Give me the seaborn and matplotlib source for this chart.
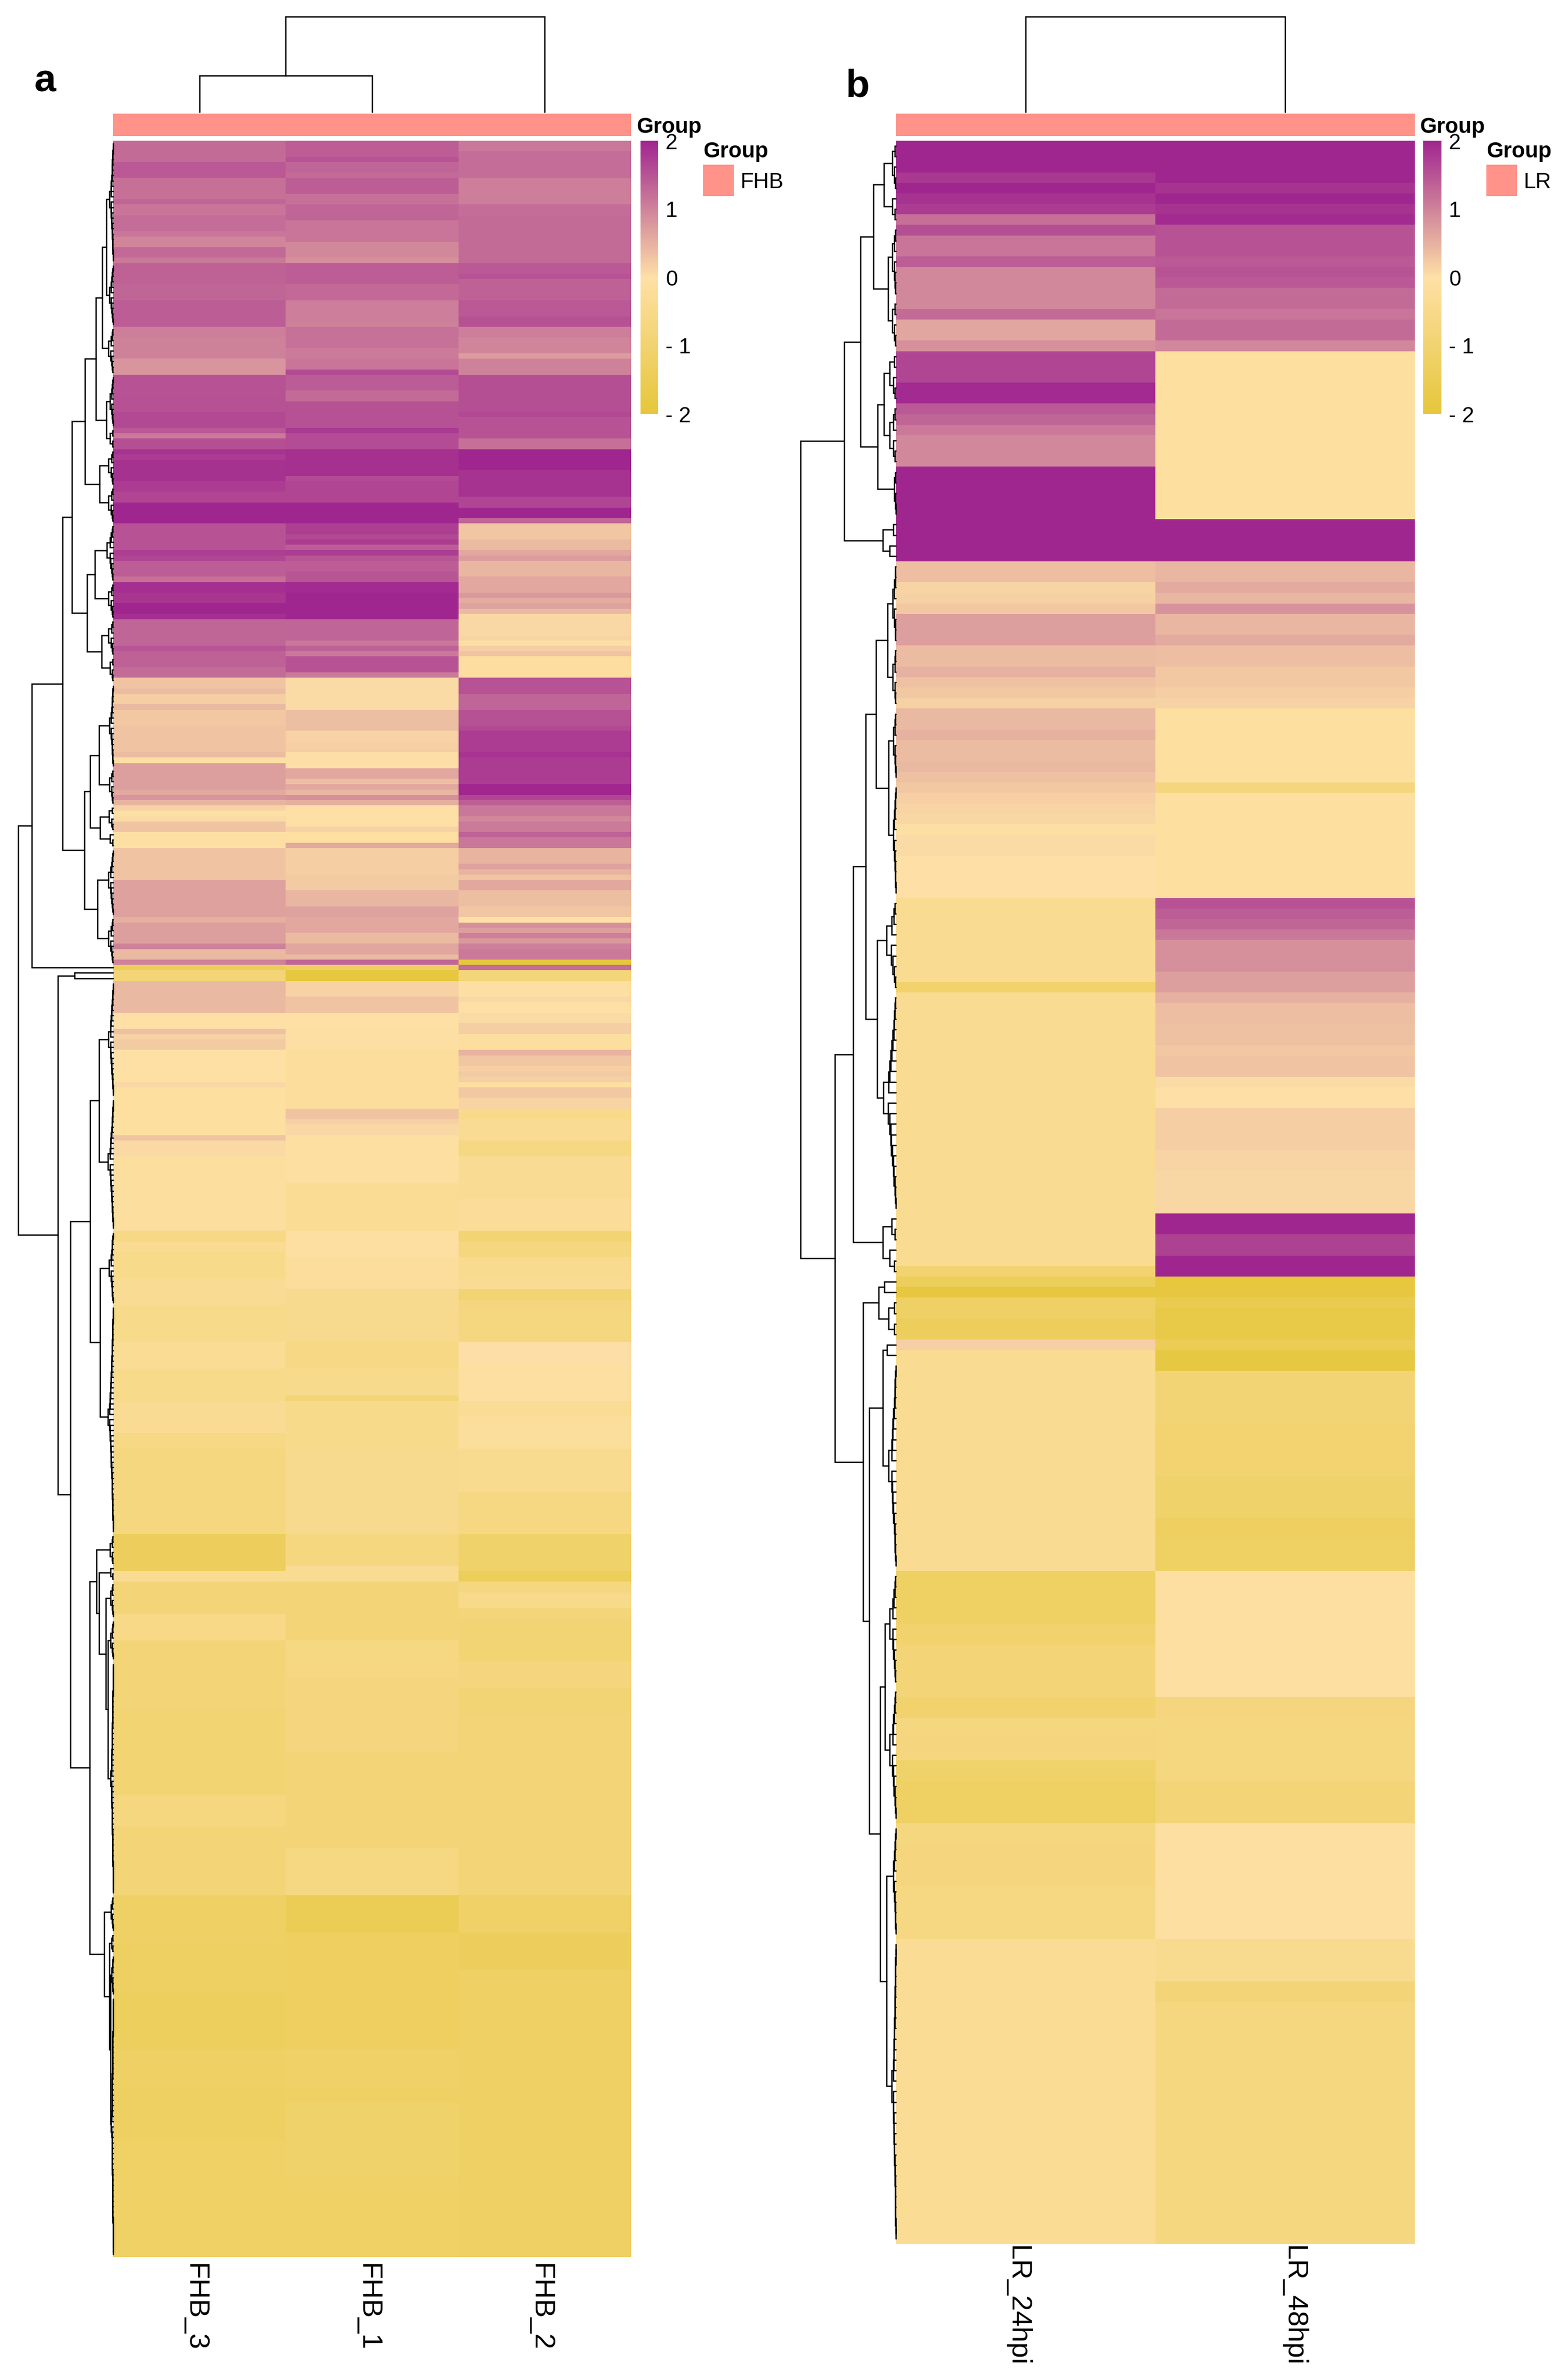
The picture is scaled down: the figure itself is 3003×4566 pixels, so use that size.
import numpy as np
import pandas as pd
import matplotlib
matplotlib.use("Agg")
import matplotlib.pyplot as plt
from matplotlib.colors import LinearSegmentedColormap, ListedColormap
import seaborn as sns

# ---------- data: each column is a list of run ends (row index) and run values ----------
a_columns = ["FHB_3", "FHB_1", "FHB_2"]
a_fhb3_ends = [4,7,11,12,14,17,18,20,22,23,27,30,35,37,41,44,48,51,54,55,56,58,59,60,64,66,68,72,77,78,79,82,83,85,87,89,90,95,96,99,101,
               103,104,106,107,110,115,116,117,122,123,124,125,126,127,128,130,133,139,146,147,151,152,154,155,156,158,164,167,168,169,171,
               177,178,187,188,191,205,207,209,214,219,226,231,237,243,246,262,269,271,277,282,295,311,317,330,339,348,359,366,376,398]
a_fhb3_vals = [1.25,1.45,1.2,1.3,1.15,1.22,1.13,.98,1.28,1.1,1.35,1.3,1.4,1.05,1.0,.8,1.5,1.52,1.62,1.45,1.1,1.55,1.85,1.75,1.87,1.75,1.65,2.0,1.5,1.72,1.65,1.4,1.2,1.9,1.82,2.0,1.9,1.3,1.48,1.35,1.25,
               .3,.38,.2,.42,.25,.3,.38,-.05,.7,.58,.8,.48,.15,0,.05,.3,-.05,.3,.68,.52,.7,1.0,.42,1.0,-1.4,-.85,.42,0,.33,.15,.22,
               -.03,.08,-.1,.3,.07,-.15,-.6,-.38,-.5,-.35,-.5,-.3,-.5,-.35,-.6,-.7,-1.35,-.38,-.85,-.55,-.85,-.95,-.7,-.88,-1.2,-1.28,-1.32,-1.2,-1.28,-1.18]
a_fhb1_ends = [3,4,6,7,10,12,15,19,22,23,27,30,34,35,39,41,43,44,47,49,54,55,58,63,64,68,72,74,75,76,77,78,79,81,83,85,90,94,95,96,97,100,101,
               107,111,113,115,118,120,121,122,123,124,125,127,129,130,132,133,138,141,144,146,149,151,153,154,155,156,158,161,164,167,170,
               171,182,184,185,187,196,205,210,216,226,231,236,237,246,262,268,271,282,289,303,321,330,337,359,366,369,383,398]
a_fhb1_vals = [1.4,1.5,1.32,1.25,1.4,1.2,1.3,1.15,.95,.85,1.4,1.28,1.05,1.0,1.18,1.08,1.15,1.6,1.42,1.25,1.52,1.78,1.58,1.88,1.58,1.65,2.0,1.72,1.62,1.75,1.4,1.75,1.48,1.4,1.48,1.95,2.0,1.32,1.12,1.35,1.12,1.5,1.1,
               .05,.35,.15,.18,.03,.6,.35,.6,.45,.85,.52,0,0,.15,-.08,.58,.2,.22,.45,.65,.6,.4,.62,.4,1.3,-1.3,-1.9,.15,.3,-.03,-.05,
               -.05,-.2,.3,.18,.08,-.07,-.3,-.08,-.2,-.45,-.6,-.48,-.85,-.5,-.45,-.7,-.38,-.85,-.65,-.75,-.85,-.65,-1.5,-1.3,-1.15,-1.22,-1.1,-1.18]
a_fhb2_ends = [2,7,12,14,23,25,26,30,33,35,37,40,41,44,51,52,56,58,62,67,69,71,72,75,77,78,79,82,85,86,87,88,89,93,94,95,96,97,101,
               104,107,110,111,115,116,121,123,124,125,127,128,130,131,133,136,137,138,139,141,144,146,147,148,149,150,151,152,154,155,156,158,161,162,164,166,168,171,
               172,174,175,176,177,178,180,182,184,188,191,199,205,207,210,214,216,218,220,226,230,237,240,246,254,262,269,271,273,276,278,284,286,291,296,330,337,344,398]
a_fhb2_vals = [1.12,1.22,1.05,1.22,1.25,1.45,1.5,1.35,1.45,1.52,1.05,.98,.72,1.0,1.55,1.62,1.5,1.2,2.0,1.85,1.65,2.0,1.3,.28,.4,.6,.72,.45,.6,.75,.55,.65,.42,.08,.14,-.05,.2,.3,-.12,
               1.5,1.32,1.52,1.62,1.75,1.85,1.75,1.98,1.65,1.38,1.12,.95,1.08,1.33,1.12,.48,.65,.48,.3,.6,.35,.28,0,.85,.7,1.03,.78,1.03,1.1,-1.95,1.22,-.8,-.05,.08,-.02,.06,.2,-.15,
               .47,.28,.18,.22,.18,-.1,.25,.13,-.5,-.35,-.65,-.35,-.25,-.9,-.72,-.42,-.35,-.95,-.75,-.72,.02,-.07,-.3,-.18,-.4,-.65,-1.1,-1.4,-.68,-.5,-.8,-.92,-.95,-.75,-.9,-.88,-1.15,-1.35,-1.2]

b_columns = ["LR_24hpi", "LR_48hpi"]
b_24_ends = [3,4,5,6,7,8,9,11,12,16,17,19,20,23,25,26,27,28,31,40,42,43,44,45,48,50,51,52,53,54,56,57,59,60,61,62,63,64,65,66,68,72,80,81,
             107,108,109,110,111,112,114,115,136,141,143,148,150,151,154,156,160,162,166,171,200]
b_24_vals = [2.0,1.8,2.0,1.85,1.75,1.2,1.55,1.15,1.4,.95,1.25,.62,.85,1.65,1.95,1.45,1.3,1.1,.95,2.0,.37,.13,.17,.25,.7,.38,.5,.33,.25,.17,.42,.5,.38,.42,.33,.25,.18,.14,.1,-.05,.05,0,-.38,-1.05,
             -.38,-1.0,-1.4,-1.9,-1.2,-1.2,-1.35,.18,-.38,-1.25,-1.05,-.85,-1.05,-.7,-.75,-1.1,-1.25,-.7,-.75,-.65,-.3]
b_48_ends = [4,5,6,7,8,11,12,13,14,16,17,19,20,36,40,42,43,44,45,47,48,50,52,53,54,61,62,72,73,74,75,76,78,79,81,82,84,86,87,89,90,92,93,96,98,102,
             104,106,108,109,110,111,114,115,117,122,127,131,133,136,148,150,156,160,171,175,177,200]
b_48_vals = [2.0,1.85,2.0,1.85,1.95,1.5,1.45,1.5,1.45,1.25,1.15,1.25,.95,-.1,2.0,.44,.57,.44,.82,.45,.57,.36,.25,.2,.15,-.1,-.75,-.1,1.5,1.4,1.3,1.12,.85,.88,.7,.5,.37,.33,.25,.3,.05,0,.2,.2,.13,.1,
             2.0,1.7,2.0,-1.95,-1.9,-1.6,-1.75,-1.5,-1.85,-.9,-1.0,-1.08,-1.3,-1.25,-.08,-.75,-.7,-.85,-.08,-.4,-.85,-.7]

# dendrograms: [merge height, child, child]; a tuple is a block of neighbouring rows (rows, height)
a_row_tree = [182,
    [156,
        [97,
            [79,
                [54,
                    [33, [21, [13, (23, 7), (12, 7)], (9, 9)], [13, (10, 6), (4, 6)]],
                    [26, (7, 9), (7, 9)]],
                [50, [35, (11, 12), (7, 9)], [22, (7, 9), (5, 6)]]],
            [55,
                [44, [27, (16, 7), (7, 7)], [25, (5, 8), (3, 6)]],
                [30, (13, 9), (9, 9)]]],
        (1, 0)],
    [106,
        [74, (1, 0), (1, 0)],
        [82,
            [44, [27, (22, 9), (25, 10)], [25, (14, 8), (43, 10)]],
            [45,
                [32, (6, 6), [27, (3, 5), [14, (7, 5), [10, (8, 5), (44, 5)]]]],
                [17, (7, 4), [7, (4, 3), [5, (8, 3), (49, 4)]]]]]]]
b_row_tree = [183,
    [99,
        [68,
            [43, [23, (5, 7), (3, 7)], [15, (7, 7), (5, 7)]],
            [35, [23, (5, 12), (6, 12)], (5, 3)]],
        [25, (2, 5), (2, 12)]],
    [117,
        [82,
            [58, [38, [16, (8, 6), (6, 6)], [14, (7, 5), (11, 5)]], [36, (9, 18), (21, 24)]],
            [25, (3, 8), (3, 12)]],
        [63,
            [33, (2, 22), (4, 14)],
            [51, [25, (2, 17), (20, 14)],
                 [30, [21, (11, 12), (13, 12)], [18, (11, 5), (29, 8)]]]]]]
a_col_tree = [183, [70, (1, 0), (1, 0)], (1, 0)]
b_col_tree = [183, (1, 0), (1, 0)]
cbar_ticks = [-2, -1, 0, 1, 2]
cbar_labels = ["- 2", "- 1", "0", "1", "2"]

# ---------- helpers ----------
W, H = 3003, 4566
sns.set_theme(style="white")
plt.rcParams["font.family"] = ["Liberation Sans", "DejaVu Sans"]
plt.rcParams["text.color"] = "black"
fig = plt.figure(figsize=(W / 300, H / 300), dpi=300)
cmap = LinearSegmentedColormap.from_list("yp", ["#E5C63A", "#FEE0A6", "#A0268F"], N=256)
LW = 0.6


def px_axes(x0, y0, x1, y1):
    return fig.add_axes([x0 / W, 1 - y1 / H, (x1 - x0) / W, (y1 - y0) / H])


def column(ends, vals):
    return np.repeat(vals, np.diff([0] + ends))


def bracket(ax, a, ha, b, hb, h, horizontal):
    hs, ps = [ha, h, h, hb], [a, a, b, b]
    if horizontal:
        ax.plot(hs, ps, color="black", lw=LW, clip_on=False, solid_joinstyle="miter")
    else:
        ax.plot(ps, hs, color="black", lw=LW, clip_on=False, solid_joinstyle="miter")


def chain(ax, first, n, h, step, horizontal):
    y, cur = first + 0.5, 0.0
    for i in range(1, n):
        next_h = h * (i / n) ** 1.5
        row_y = first + 0.5 + step * i
        bracket(ax, y, cur, row_y, 0.0, next_h, horizontal)
        y, cur = (y + row_y) / 2, next_h
    return y, cur


def draw_leaf(ax, start, n, h, horizontal):
    if n == 1:
        return start + 0.5, 0.0
    m = n // 2
    y1, h1 = chain(ax, start, m, h * 0.7, 1, horizontal)
    y2, h2 = chain(ax, start + n - 1, n - m, h * 0.7, -1, horizontal)
    y = (y1 + y2) / 2
    bracket(ax, y1, h1, y2, h2, h, horizontal)
    return y, h


def draw_tree(ax, node, start, horizontal):
    if isinstance(node, tuple):
        y, h = draw_leaf(ax, start, node[0], node[1], horizontal)
        return y, h, start + node[0]
    y1, h1, mid = draw_tree(ax, node[1], start, horizontal)
    y2, h2, end = draw_tree(ax, node[2], mid, horizontal)
    bracket(ax, y1, h1, y2, h2, node[0], horizontal)
    return (y1 + y2) / 2, node[0], end


def panel(letter, letter_xy, frame, columns, row_tree, col_tree, group, tick_pad, tick_pos,
          dendro_x0, cbar_x, legend_x, label_x, group_x):
    x0, y0, x1, y1 = frame
    n = len(next(iter(columns.values())))
    df = pd.DataFrame(columns)

    ax = px_axes(x0, y0, x1, y1)
    cax = px_axes(cbar_x[0], 270, cbar_x[1], 794)
    sns.heatmap(df, ax=ax, cmap=cmap, vmin=-2, vmax=2, yticklabels=False, cbar_ax=cax,
                cbar_kws={"ticks": cbar_ticks})
    ax.set_xticks(tick_pos)
    ax.set_xticklabels(list(columns.keys()), rotation=270, fontsize=13, color="black")
    ax.tick_params(axis="x", length=0, pad=tick_pad)
    ax.set_ylabel("")
    cax.set_yticklabels(cbar_labels, fontsize=10, color="black")
    cax.tick_params(axis="y", length=0, pad=3.4)
    ax.collections[0].colorbar.outline.set_visible(False)

    # annotation bar
    bar = px_axes(x0, 218, x1, 261)
    sns.heatmap(np.zeros((1, df.shape[1])), ax=bar, cmap=ListedColormap(["#FF9289"]), cbar=False,
                xticklabels=False, yticklabels=False)

    # row dendrogram
    rd = px_axes(dendro_x0, y0, x0, y1)
    rd.set_xlim(x0 - dendro_x0, 0)
    rd.set_ylim(n, 0)
    draw_tree(rd, row_tree, 0, True)
    rd.axis("off")

    # column dendrogram
    cd = px_axes(x0, 32, x1, 215)
    cd.set_xlim(0, df.shape[1])
    cd.set_ylim(0, 183)
    draw_tree(cd, col_tree, 0, False)
    cd.axis("off")

    # legend
    fig.text(group_x / W, 1 - 244 / H, "Group", fontsize=10, fontweight="bold", va="center", ha="left")
    fig.text(legend_x / W, 1 - 291 / H, "Group", fontsize=10, fontweight="bold", va="center", ha="left")
    sw = px_axes(legend_x, 316, legend_x + 59, 376)
    sns.heatmap(np.zeros((1, 1)), ax=sw, cmap=ListedColormap(["#FF9289"]), cbar=False,
                xticklabels=False, yticklabels=False)
    fig.text(label_x / W, 1 - 350 / H, group, fontsize=10, va="center", ha="left")
    fig.text(letter_xy[0] / W, 1 - letter_xy[1] / H, letter, fontsize=18, fontweight="bold",
             va="baseline", ha="left")


panel("a", (66, 175), (217, 270, 1211, 4330),
      {a_columns[0]: column(a_fhb3_ends, a_fhb3_vals),
       a_columns[1]: column(a_fhb1_ends, a_fhb1_vals),
       a_columns[2]: column(a_fhb2_ends, a_fhb2_vals)},
      a_row_tree, a_col_tree, "FHB", 3.0, [0.473, 1.473, 2.473],
      0, (1229, 1263), 1349, 1421, 1221)
panel("b", (1622, 186), (1719, 270, 2715, 4305),
      {b_columns[0]: column(b_24_ends, b_24_vals),
       b_columns[1]: column(b_48_ends, b_48_vals)},
      b_row_tree, b_col_tree, "LR", 0.7, [0.466, 1.532],
      1500, (2731, 2766), 2852, 2924, 2724)

fig.savefig("out.png", dpi=300, facecolor="white")
